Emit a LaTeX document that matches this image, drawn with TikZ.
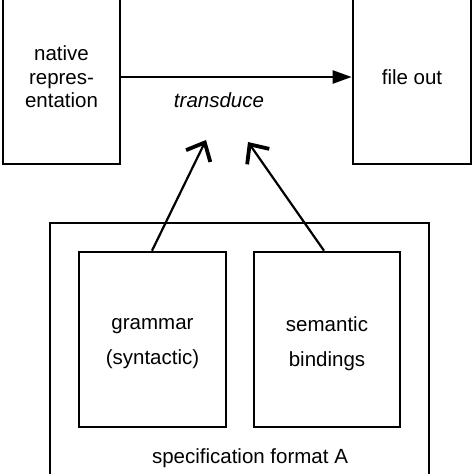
\documentclass[tikz,border=0pt]{standalone}
\usepackage{fontspec}
\setmainfont{Liberation Sans}
\usetikzlibrary{arrows.meta}
\begin{document}
\begin{tikzpicture}[x=1bp,y=-1bp,
  box/.style={draw, line width=2.6bp, rectangle, inner sep=0pt, align=center,
    font=\fontsize{20.5bp}{23.5bp}\selectfont},
  lbl/.style={inner sep=0pt, align=center, font=\fontsize{20.5bp}{23.5bp}\selectfont},
  openarrow/.style={line width=2.2bp, -{Straight Barb[length=15bp,width=27bp,line width=3.8bp]}},
  mainarrow/.style={line width=2.4bp, -{Triangle[length=19bp,width=13bp]}}]
\useasboundingbox (0,0) rectangle (474,474);
\node[box, minimum width=117bp, minimum height=174bp] (native) at (61.5,77)
  {native\\repres-\\entation};
\node[box, minimum width=118bp, minimum height=174bp] (fileout) at (412,77) {file out};
\node[box, minimum width=379bp, minimum height=277bp] (outer) at (239.5,361.5) {};
\node[box, minimum width=147bp, minimum height=175bp] (grammar) at (152.5,339.5) {};
\node[box, minimum width=146bp, minimum height=175bp] (semantic) at (327,339.5) {};
\node[lbl, font=\fontsize{20.5bp}{35bp}\selectfont] (grammartext) at ([yshift=-4bp]grammar.center) {grammar\\(syntactic)};
\node[lbl, font=\fontsize{20.5bp}{35bp}\selectfont] (semantictext) at ([yshift=-4bp]semantic.center) {semantic\\bindings};
\node[lbl] (spec) at (250,458) {specification format A};
\node[lbl, font=\fontsize{20.5bp}{23.5bp}\selectfont\itshape] (transduce) at (219,100) {transduce};
\coordinate (tip1) at (206,140);
\coordinate (tip2) at (248,142);
\draw[mainarrow] (native.east) -- (fileout.west);
\draw[openarrow] (grammar.north -| 152,0) -- (tip1);
\draw[openarrow] (semantic.north -| 324,0) -- (tip2);
\end{tikzpicture}
\end{document}
